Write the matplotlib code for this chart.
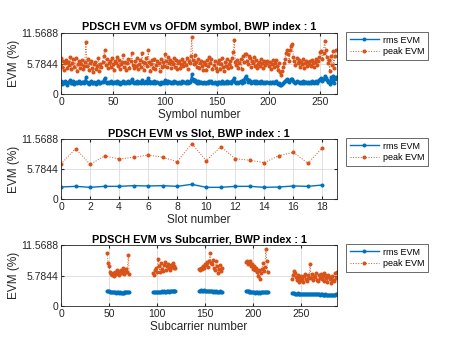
import numpy as np
import matplotlib.pyplot as plt

plt.rcParams['font.family'] = ['Liberation Sans', 'DejaVu Sans']

YMAX = 11.5688

# EVM per OFDM symbol (0..265)
sym_peak = [
    6.9, 5.2, 6.3, 4.6, 5.8, 6.5, 4.9, 6.1, 5.5, 7.0, 4.8, 5.9, 6.6, 5.1, 6.8, 4.3, 5.6, 6.2, 5.0, 5.7,
    6.4, 4.7, 5.3, 6.0, 9.9, 5.4, 6.7, 4.5, 5.9, 6.3, 5.0, 4.2, 5.6, 6.1, 4.8, 5.3, 6.9, 4.4, 5.7, 5.2,
    6.0, 7.2, 8.4, 5.5, 6.6, 4.9, 5.8, 6.3, 5.1, 6.8, 5.6, 4.6, 6.2, 5.9, 7.0, 5.3, 6.4, 4.8, 5.7, 6.1,
    7.4, 5.2, 6.0, 4.5, 5.8, 6.6, 5.0, 6.3, 7.7, 5.5, 4.9, 6.2, 5.4, 6.9, 4.7, 5.6, 6.5, 5.1, 7.8, 6.0,
    4.6, 5.9, 6.8, 5.3, 8.3, 6.1, 4.4, 5.7, 6.4, 5.0, 6.7, 4.8, 5.5, 6.2, 5.8, 4.3, 6.6, 5.2, 6.0, 5.4,
    7.5, 6.3, 5.1, 7.0, 5.8, 6.5, 4.9, 6.1, 5.6, 6.9, 5.2, 6.4, 4.7, 5.9, 6.2, 5.0, 5.7, 6.6, 5.3, 6.0,
    5.5, 6.8, 4.8, 6.2, 5.9, 7.2, 10.8, 6.4, 5.6, 7.4, 6.0, 5.2, 6.7, 4.9, 5.8, 6.3, 5.4, 4.6, 6.1, 5.7,
    4.5, 6.5, 5.3, 7.1, 5.9, 6.6, 4.8, 5.5, 6.2, 5.0, 4.3, 5.8, 6.4, 4.7, 5.6, 6.9, 5.1, 4.4, 6.0, 5.4,
    6.7, 4.9, 5.7, 6.3, 5.2, 6.8, 7.9, 10.3, 6.1, 5.5, 6.4, 5.0, 5.9, 6.6, 4.8, 7.2, 6.0, 7.6, 7.5, 6.3,
    5.6, 7.3, 6.8, 5.1, 6.2, 5.8, 7.0, 5.4, 6.5, 4.9, 5.7, 6.1, 5.3, 6.6, 5.9, 5.0, 6.3, 5.5, 5.8, 6.2,
    5.4, 6.0, 4.8, 5.7, 6.4, 5.1, 5.9, 6.5, 5.3, 4.6, 5.8, 4.1, 3.6, 4.4, 5.2, 5.9, 6.7, 7.8, 8.4, 7.5,
    6.2, 8.4, 9.1, 9.5, 7.0, 6.3, 5.5, 6.9, 5.8, 6.4, 5.2, 6.1, 5.7, 6.6, 5.0, 5.9, 6.3, 5.4, 6.0, 5.6,
    6.2, 5.3, 6.5, 5.8, 5.1, 6.0, 6.7, 5.5, 6.3, 7.0, 7.9, 8.1, 6.6, 7.7, 10.0, 8.4, 7.1, 5.8, 6.4, 4.4,
    7.2, 5.5, 8.2, 4.9, 7.3, 8.3,
]
sym_rms = [
    2.5, 1.9, 2.2, 2.0, 2.4, 2.1, 1.8, 2.3, 2.2, 2.6, 2.0, 2.1, 2.4, 1.9, 2.3, 2.0, 2.2, 2.5, 2.1, 2.0,
    2.3, 2.2, 2.0, 2.4, 3.3, 2.3, 2.1, 1.9, 2.2, 2.4, 2.0, 2.1, 2.3, 2.0, 1.9, 2.2, 2.5, 2.1, 2.0, 2.3,
    2.2, 2.6, 3.0, 2.2, 2.1, 2.3, 2.0, 2.2, 2.4, 2.1, 2.0, 2.2, 2.3, 2.1, 2.5, 2.0, 2.2, 1.9, 2.1, 2.3,
    2.4, 2.1, 2.2, 2.0, 2.3, 2.5, 2.1, 2.2, 2.9, 2.3, 2.0, 2.2, 2.1, 2.4, 2.0, 2.2, 2.3, 2.1, 2.7, 2.2,
    2.0, 2.3, 2.4, 2.1, 3.0, 2.4, 2.0, 2.2, 2.3, 2.1, 2.4, 2.0, 2.2, 2.3, 2.1, 1.9, 2.3, 2.1, 2.2, 2.0,
    2.6, 2.4, 2.1, 2.5, 2.2, 2.3, 2.0, 2.2, 2.1, 2.4, 2.2, 2.3, 2.0, 2.1, 2.2, 2.0, 2.1, 2.4, 2.2, 2.3,
    2.1, 2.4, 2.0, 2.3, 2.2, 2.6, 3.8, 2.9, 2.4, 2.7, 2.3, 2.1, 2.4, 2.0, 2.2, 2.3, 2.1, 2.0, 2.2, 2.1,
    2.0, 2.3, 2.1, 2.5, 2.2, 2.4, 2.0, 2.1, 2.3, 2.0, 1.9, 2.2, 2.3, 2.0, 2.1, 2.5, 2.1, 2.0, 2.2, 2.1,
    2.4, 2.0, 2.2, 2.3, 2.1, 2.5, 2.7, 3.1, 2.3, 2.1, 2.3, 2.0, 2.2, 2.4, 2.0, 2.6, 2.3, 3.0, 3.4, 2.8,
    2.3, 2.6, 2.5, 2.1, 2.3, 2.2, 2.5, 2.1, 2.4, 2.0, 2.2, 2.3, 2.1, 2.4, 2.2, 2.0, 2.3, 2.1, 2.2, 2.3,
    2.1, 2.2, 2.0, 2.2, 2.3, 2.0, 2.2, 2.4, 2.1, 1.9, 2.1, 1.8, 1.7, 1.9, 2.0, 2.2, 2.4, 2.6, 2.8, 2.5,
    2.3, 2.7, 2.8, 2.9, 2.5, 2.3, 2.1, 2.4, 2.2, 2.3, 2.0, 2.2, 2.1, 2.4, 2.0, 2.2, 2.3, 2.1, 2.2, 2.1,
    2.3, 2.0, 2.4, 2.2, 2.0, 2.3, 2.5, 2.1, 2.4, 2.6, 2.9, 3.0, 2.5, 2.8, 3.4, 3.1, 2.7, 2.2, 2.5, 1.9,
    3.3, 2.2, 3.5, 2.0, 2.8, 3.2,
]

# EVM per slot (0..18)
slot_peak = [6.75, 9.71, 6.69, 8.29, 7.72, 8.04, 8.49, 8.04, 7.20, 10.67,
             7.39, 10.09, 7.78, 7.46, 7.01, 8.36, 9.00, 6.88, 9.90]
slot_rms = [2.31, 2.44, 2.25, 2.44, 2.44, 2.57, 2.51, 2.57, 2.44, 2.83,
            2.25, 2.25, 2.44, 2.44, 2.25, 2.31, 2.51, 2.44, 2.70]

# EVM per subcarrier: allocated blocks only (others are empty)
sc_start = [48, 96, 144, 192, 240]
sc_peak_blocks = [
    [10.1, 8.1, 7.6, 6.4, 6.0, 5.8, 6.2, 5.7, 6.5, 6.1, 6.8, 6.3, 5.9, 6.6, 6.9, 6.2, 7.3, 6.0, 6.7, 6.4,
     7.0, 6.5, 9.7, 6.1],
    [6.3, 5.9, 6.8, 7.2, 6.5, 8.9, 7.6, 6.4, 8.1, 7.0, 6.6, 7.8, 8.3, 6.9, 7.5, 8.0, 7.3, 6.8, 7.7, 7.4,
     8.1, 7.2, 7.6, 7.3],
    [7.1, 6.8, 7.3, 7.0, 7.5, 7.2, 8.0, 7.7, 8.4, 7.4, 8.6, 10.0, 8.1, 7.9, 8.8, 7.3, 6.8, 8.5, 7.6, 6.2,
     7.0, 7.8, 6.6, 7.2],
    [8.3, 8.6, 7.9, 8.4, 8.1, 8.6, 7.5, 8.0, 7.1, 7.6, 6.8, 7.3, 6.5, 5.7, 6.9, 5.2, 6.3, 7.0, 8.1, 6.7,
     7.4, 10.8, 8.6, 6.4],
    [5.2, 5.9, 6.6, 6.2, 5.5, 5.0, 5.8, 4.6, 5.3, 4.9, 5.7, 5.1, 4.5, 5.6, 6.0, 5.2, 4.8, 5.9, 5.4, 7.9,
     5.3, 6.1, 4.9, 5.7, 5.5, 6.3, 5.0, 4.7, 5.9, 5.4, 6.0, 5.2, 5.6, 6.2, 4.8, 5.8, 5.3, 4.6, 5.9, 5.5,
     5.1, 4.4, 5.7, 5.0, 4.7, 6.3, 5.4, 6.4],
]
sc_rms_blocks = [
    [2.9, 2.8, 2.8, 2.7, 2.6, 2.6, 2.7, 2.6, 2.6, 2.5, 2.6, 2.6, 2.5, 2.6, 2.4, 2.4, 2.5, 2.6, 2.5, 2.6,
     2.6, 2.6, 2.6, 2.6],
    [2.7, 2.7, 2.7, 2.6, 2.7, 2.7, 2.7, 2.6, 2.7, 2.8, 2.7, 2.8, 2.7, 2.7, 2.8, 2.8, 2.7, 2.8, 2.8, 2.8,
     2.9, 2.8, 2.8, 2.8],
    [2.9, 2.9, 3.0, 2.9, 2.9, 3.0, 2.9, 2.9, 2.9, 2.8, 2.9, 2.8, 2.8, 2.8, 2.7, 2.8, 2.7, 2.8, 2.7, 2.7,
     2.7, 2.8, 2.7, 2.7],
    [2.9, 2.8, 2.8, 2.8, 2.7, 2.7, 2.6, 2.6, 2.6, 2.6, 2.5, 2.6, 2.6, 2.5, 2.6, 2.5, 2.6, 2.6, 2.6, 2.6,
     2.6, 2.6, 2.6, 2.6],
    [2.4, 2.4, 2.4, 2.3, 2.3, 2.3, 2.4, 2.3, 2.3, 2.3, 2.3, 2.2, 2.3, 2.3, 2.2, 2.3, 2.3, 2.2, 2.3, 2.3,
     2.2, 2.2, 2.3, 2.2, 2.2, 2.2, 2.2, 2.2, 2.2, 2.1, 2.2, 2.2, 2.1, 2.1, 2.1, 2.2, 2.1, 2.1, 2.1, 2.1,
     2.1, 2.1, 2.1, 2.1, 2.1, 2.1, 2.2, 2.3],
]
N_SC = 288


def fill_blocks(blocks):
    out = np.full(N_SC, np.nan)
    for s, vals in zip(sc_start, blocks):
        out[s:s + len(vals)] = vals
    return out


sc_rms = fill_blocks(sc_rms_blocks)
sc_peak = fill_blocks(sc_peak_blocks)

BLUE = '#0072BD'
ORANGE = '#D95319'

fig = plt.figure(figsize=(4.74, 3.55), dpi=100)
W, H = 474, 355


def add_axes(top, bottom):
    return fig.add_axes([61 / W, 1 - bottom / H, 276 / W, (bottom - top) / H])


panels = [
    (33, 94, np.arange(len(sym_rms)), sym_rms, sym_peak, 266, np.arange(0, 251, 50),
     'PDSCH EVM vs OFDM symbol, BWP index : 1', 'Symbol number'),
    (139, 199, np.arange(len(slot_rms)), slot_rms, slot_peak, 19, np.arange(0, 19, 2),
     'PDSCH EVM vs Slot, BWP index : 1', 'Slot number'),
    (245, 306, np.arange(N_SC), sc_rms, sc_peak, 287, np.arange(0, 251, 50),
     'PDSCH EVM vs Subcarrier, BWP index : 1', 'Subcarrier number'),
]

for top, bottom, x, rms, peak, xmax, xt, title, xlabel in panels:
    ax = add_axes(top, bottom)
    ax.plot(x, rms, '-', color=BLUE, marker='.', markersize=3.8, linewidth=1.0, label='rms EVM')
    ax.plot(x, peak, ':', color=ORANGE, marker='.', markersize=3.8, linewidth=0.7, label='peak EVM')
    ax.set_xlim(0, xmax)
    ax.set_ylim(0, YMAX)
    ax.set_xticks(xt)
    ax.set_yticks([0, YMAX / 2, YMAX])
    ax.set_yticklabels(['0', '5.7844', '11.5688'])
    ax.grid(True, color='#dcdcdc', linewidth=0.6)
    ax.set_axisbelow(True)
    ax.tick_params(direction='in', labelsize=7.5, length=2, top=True, right=True,
                   colors='#262626', pad=2)
    for sp in ax.spines.values():
        sp.set_color('#262626')
        sp.set_linewidth(0.6)
    ax.set_title(title, fontsize=7.8, fontweight='bold', pad=2)
    ax.set_xlabel(xlabel, fontsize=8.5, labelpad=1.5, color='#262626')
    ax.set_ylabel('EVM (%)', fontsize=8.5, labelpad=1, color='#262626')
    leg = ax.legend(loc='upper left', bbox_to_anchor=(346 / W, 1 - (top - 1) / H),
                    bbox_transform=fig.transFigure, fontsize=6.5, frameon=True,
                    fancybox=False, borderpad=0.4, handlelength=3.2, labelspacing=0.3,
                    borderaxespad=0, handletextpad=0.5)
    leg.get_frame().set_edgecolor('#262626')
    leg.get_frame().set_linewidth(0.6)

fig.savefig('out.png', dpi=100)
